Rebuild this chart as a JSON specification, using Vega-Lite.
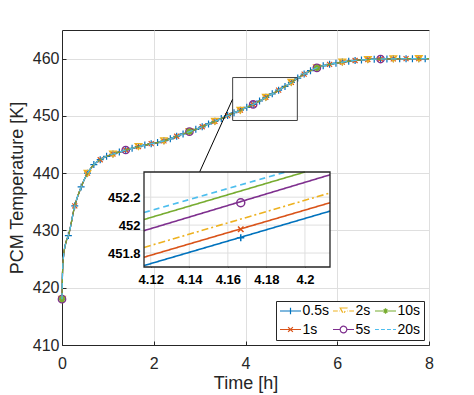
{
  "$schema": "https://vega.github.io/schema/vega-lite/v6.json",
  "width": 367,
  "height": 315,
  "autosize": "none",
  "padding": {"left": 62, "top": 30, "right": 45, "bottom": 50},
  "background": "white",
  "config": {
    "font": "Liberation Sans",
    "view": {"stroke": "#262626", "strokeWidth": 1},
    "axis": {
      "labelFontSize": 16,
      "titleFontSize": 18,
      "labelColor": "#262626",
      "titleColor": "#262626",
      "titleFontWeight": "normal",
      "domainColor": "#262626",
      "tickColor": "#262626",
      "gridColor": "#dfdfdf",
      "labelFlush": false
    }
  },
  "datasets": {
    "curve": [
      {"t": 0, "T": 418.0, "k": 0},
      {"t": 0.01, "T": 422.3},
      {"t": 0.03, "T": 425.2},
      {"t": 0.07, "T": 427.4},
      {"t": 0.1, "T": 428.3},
      {"t": 0.139, "T": 429.1, "k": 1},
      {"t": 0.278, "T": 434.3, "k": 2},
      {"t": 0.417, "T": 437.6, "k": 3},
      {"t": 0.556, "T": 440.0, "k": 4},
      {"t": 0.694, "T": 441.5, "k": 5},
      {"t": 0.833, "T": 442.35, "k": 6},
      {"t": 0.972, "T": 442.95, "k": 7},
      {"t": 1.111, "T": 443.35, "k": 8},
      {"t": 1.25, "T": 443.7, "k": 9},
      {"t": 1.389, "T": 444.05, "k": 10},
      {"t": 1.528, "T": 444.35, "k": 11},
      {"t": 1.667, "T": 444.65, "k": 12},
      {"t": 1.806, "T": 444.9, "k": 13},
      {"t": 1.944, "T": 445.15, "k": 14},
      {"t": 2.083, "T": 445.35, "k": 15},
      {"t": 2.222, "T": 445.65, "k": 16},
      {"t": 2.361, "T": 446.0, "k": 17},
      {"t": 2.5, "T": 446.45, "k": 18},
      {"t": 2.639, "T": 446.85, "k": 19},
      {"t": 2.778, "T": 447.25, "k": 20},
      {"t": 2.917, "T": 447.65, "k": 21},
      {"t": 3.056, "T": 448.1, "k": 22},
      {"t": 3.194, "T": 448.6, "k": 23},
      {"t": 3.333, "T": 449.05, "k": 24},
      {"t": 3.472, "T": 449.55, "k": 25},
      {"t": 3.611, "T": 450.05, "k": 26},
      {"t": 3.75, "T": 450.55, "k": 27},
      {"t": 3.889, "T": 451.0, "k": 28},
      {"t": 4.028, "T": 451.5, "k": 29},
      {"t": 4.167, "T": 452.0, "k": 30},
      {"t": 4.306, "T": 452.6, "k": 31},
      {"t": 4.444, "T": 453.25, "k": 32},
      {"t": 4.583, "T": 453.85, "k": 33},
      {"t": 4.722, "T": 454.5, "k": 34},
      {"t": 4.861, "T": 455.15, "k": 35},
      {"t": 5.0, "T": 455.85, "k": 36},
      {"t": 5.139, "T": 456.6, "k": 37},
      {"t": 5.278, "T": 457.3, "k": 38},
      {"t": 5.417, "T": 457.9, "k": 39},
      {"t": 5.556, "T": 458.4, "k": 40},
      {"t": 5.694, "T": 458.75, "k": 41},
      {"t": 5.833, "T": 459.0, "k": 42},
      {"t": 5.972, "T": 459.2, "k": 43},
      {"t": 6.111, "T": 459.4, "k": 44},
      {"t": 6.25, "T": 459.55, "k": 45},
      {"t": 6.389, "T": 459.68, "k": 46},
      {"t": 6.528, "T": 459.78, "k": 47},
      {"t": 6.667, "T": 459.85, "k": 48},
      {"t": 6.806, "T": 459.9, "k": 49},
      {"t": 6.944, "T": 459.93, "k": 50},
      {"t": 7.083, "T": 459.95, "k": 51},
      {"t": 7.222, "T": 459.97, "k": 52},
      {"t": 7.361, "T": 459.98, "k": 53},
      {"t": 7.5, "T": 459.99, "k": 54},
      {"t": 7.639, "T": 460.0, "k": 55},
      {"t": 7.778, "T": 460.0, "k": 56},
      {"t": 7.917, "T": 460.0, "k": 57},
      {"t": 8.0, "T": 460.0}
    ],
    "inset": [
      {"series": "0.5s", "t": 4.1165, "T": 451.71},
      {"series": "0.5s", "t": 4.213, "T": 452.10},
      {"series": "1s", "t": 4.1165, "T": 451.77},
      {"series": "1s", "t": 4.213, "T": 452.16},
      {"series": "2s", "t": 4.1165, "T": 451.84},
      {"series": "2s", "t": 4.213, "T": 452.23},
      {"series": "5s", "t": 4.1165, "T": 451.96},
      {"series": "5s", "t": 4.213, "T": 452.36},
      {"series": "10s", "t": 4.1165, "T": 452.04},
      {"series": "10s", "t": 4.2, "T": 452.38},
      {"series": "20s", "t": 4.1165, "T": 452.09},
      {"series": "20s", "t": 4.19, "T": 452.38}
    ],
    "insetMarks": [
      {"series": "0.5s", "t": 4.1667, "T": 451.91},
      {"series": "1s", "t": 4.1667, "T": 451.97},
      {"series": "5s", "t": 4.1667, "T": 452.16}
    ],
    "insetGridX": [{"g": 4.12}, {"g": 4.14}, {"g": 4.16}, {"g": 4.18}, {"g": 4.2}],
    "insetGridY": [{"h": 451.8}, {"h": 452.0}, {"h": 452.2}],
    "insetBox": [{"x1": 4.1165, "x2": 4.213, "y1": 451.70, "y2": 452.38}],
    "zoomBox": [{"x1": 3.72, "x2": 5.13, "y1": 449.2, "y2": 456.7}],
    "connector": [{"x1": 3.717, "y1": 452.9, "x2": 3.0, "y2": 440.21}],
    "legendKeys": [
      {"series": "0.5s", "t": -1, "T": 400},
      {"series": "1s", "t": -1, "T": 400},
      {"series": "2s", "t": -1, "T": 400},
      {"series": "5s", "t": -1, "T": 400},
      {"series": "10s", "t": -1, "T": 400},
      {"series": "20s", "t": -1, "T": 400}
    ]
  },
  "layer": [
    {
      "layer": [
        {
          "data": {"name": "curve"},
          "mark": {"type": "line", "color": "#0072BD", "strokeWidth": 1.2, "interpolate": "monotone"},
          "encoding": {
            "x": {"field": "t", "type": "quantitative", "scale": {"domain": [0, 8], "nice": false},
              "axis": {"title": "Time [h]", "values": [0, 2, 4, 6, 8], "format": "~g", "grid": true, "tickSize": -4, "labelPadding": 14, "titlePadding": 3}},
            "y": {"field": "T", "type": "quantitative", "scale": {"domain": [410, 465], "nice": false, "zero": false},
              "axis": {"title": "PCM Temperature [K]", "values": [410, 420, 430, 440, 450, 460], "format": "~g", "grid": true, "tickSize": -4, "labelPadding": 7, "titlePadding": 6}}
          }
        },
        {
          "data": {"name": "curve"},
          "transform": [{"filter": "datum.k != null"}],
          "mark": {"type": "point", "shape": "M-1,0H1M0,-1V1", "size": 49, "filled": false, "color": "#0072BD", "strokeWidth": 1.2, "opacity": 1},
          "encoding": {"x": {"field": "t", "type": "quantitative"}, "y": {"field": "T", "type": "quantitative"}}
        },
        {
          "data": {"name": "curve"},
          "mark": {"type": "line", "color": "#D95319", "strokeWidth": 1.2, "interpolate": "monotone"},
          "encoding": {"x": {"field": "t", "type": "quantitative"}, "y": {"field": "T", "type": "quantitative"}}
        },
        {
          "data": {"name": "curve"},
          "transform": [{"filter": "datum.k != null && datum.k % 2 == 0"}],
          "mark": {"type": "point", "shape": "M-1,-1L1,1M-1,1L1,-1", "size": 25, "filled": false, "color": "#D95319", "strokeWidth": 1.2, "opacity": 1},
          "encoding": {"x": {"field": "t", "type": "quantitative"}, "y": {"field": "T", "type": "quantitative"}}
        },
        {
          "data": {"name": "curve"},
          "mark": {"type": "line", "color": "#EDB120", "strokeWidth": 1.2, "strokeDash": [7, 3, 2, 3], "interpolate": "monotone"},
          "encoding": {"x": {"field": "t", "type": "quantitative"}, "y": {"field": "T", "type": "quantitative"}}
        },
        {
          "data": {"name": "curve"},
          "transform": [{"filter": "datum.k != null && datum.k % 4 == 0"}],
          "mark": {"type": "point", "shape": "triangle-down", "size": 45, "filled": false, "color": "#EDB120", "strokeWidth": 1.3, "opacity": 1},
          "encoding": {"x": {"field": "t", "type": "quantitative"}, "y": {"field": "T", "type": "quantitative"}}
        },
        {
          "data": {"name": "curve"},
          "mark": {"type": "line", "color": "#7E2F8E", "strokeWidth": 1.2, "interpolate": "monotone"},
          "encoding": {"x": {"field": "t", "type": "quantitative"}, "y": {"field": "T", "type": "quantitative"}}
        },
        {
          "data": {"name": "curve"},
          "transform": [{"filter": "datum.k != null && datum.k % 10 == 0"}],
          "mark": {"type": "point", "shape": "circle", "size": 55, "filled": false, "color": "#7E2F8E", "strokeWidth": 1.3, "opacity": 1},
          "encoding": {"x": {"field": "t", "type": "quantitative"}, "y": {"field": "T", "type": "quantitative"}}
        },
        {
          "data": {"name": "curve"},
          "mark": {"type": "line", "color": "#77AC30", "strokeWidth": 1.2, "interpolate": "monotone"},
          "encoding": {"x": {"field": "t", "type": "quantitative"}, "y": {"field": "T", "type": "quantitative"}}
        },
        {
          "data": {"name": "curve"},
          "transform": [{"filter": "datum.k != null && datum.k % 20 == 0"}],
          "mark": {"type": "point", "shape": "M-1,0H1M0,-1V1M-0.7,-0.7L0.7,0.7M-0.7,0.7L0.7,-0.7", "size": 40, "filled": false, "color": "#77AC30", "strokeWidth": 1.8, "opacity": 1},
          "encoding": {"x": {"field": "t", "type": "quantitative"}, "y": {"field": "T", "type": "quantitative"}}
        },
        {
          "data": {"name": "curve"},
          "mark": {"type": "line", "color": "#4DBEEE", "strokeWidth": 1.2, "strokeDash": [6, 4], "interpolate": "monotone"},
          "encoding": {"x": {"field": "t", "type": "quantitative"}, "y": {"field": "T", "type": "quantitative"}}
        },
        {
          "data": {"name": "zoomBox"},
          "mark": {"type": "rect", "fill": null, "fillOpacity": 0, "stroke": "#404040", "strokeWidth": 1},
          "encoding": {
            "x": {"field": "x1", "type": "quantitative"}, "x2": {"field": "x2"},
            "y": {"field": "y1", "type": "quantitative"}, "y2": {"field": "y2"}
          }
        },
        {
          "data": {"name": "connector"},
          "mark": {"type": "rule", "color": "#000000", "strokeWidth": 1},
          "encoding": {
            "x": {"field": "x1", "type": "quantitative"}, "x2": {"field": "x2"},
            "y": {"field": "y1", "type": "quantitative"}, "y2": {"field": "y2"}
          }
        },
        {
          "data": {"name": "legendKeys"},
          "mark": {"type": "point", "filled": false, "clip": true, "opacity": 1, "strokeWidth": 1.2},
          "encoding": {
            "x": {"field": "t", "type": "quantitative"},
            "y": {"field": "T", "type": "quantitative"},
            "color": {
              "field": "series", "type": "nominal",
              "scale": {"domain": ["0.5s", "1s", "2s", "5s", "10s", "20s"], "range": ["#0072BD", "#D95319", "#EDB120", "#7E2F8E", "#77AC30", "#4DBEEE"]},
              "legend": {
                "title": null, "orient": "bottom-right", "offset": 5, "columns": 3, "gridAlign": "each",
                "labelFontSize": 14, "labelColor": "#000000", "labelFont": "Liberation Sans",
                "symbolSize": 36, "symbolStrokeWidth": 1.2, "symbolFillColor": "transparent",
                "labelOffset": 9.5, "columnPadding": 1, "rowPadding": 4.5, "padding": 3,
                "strokeColor": "#262626", "fillColor": "white", "symbolOpacity": 1
              }
            },
            "shape": {
              "field": "series", "type": "nominal",
              "scale": {"domain": ["0.5s", "1s", "2s", "5s", "10s", "20s"], "range": [
                "M-2,0H5M1.5,-1.1V1.1",
                "M-2,0H5M0.7,-0.8L2.3,0.8M0.7,0.8L2.3,-0.8",
                "M-2,0H-0.4M0.1,0H0.3M2.7,0H2.9M3.4,0H5M0.4,-1L2.6,-1L1.5,1Z",
                "M-2,0H0.4M2.6,0H5M2.6,0A1.1,1.1 0 1,1 0.4,0A1.1,1.1 0 1,1 2.6,0",
                "M-2,0H5M1.5,-0.9V0.9M0.6,0H2.4M0.9,-0.6L2.1,0.6M0.9,0.6L2.1,-0.6",
                "M-2,0H-0.7M0,0H1.3M2,0H3.3M4,0H5"
              ]}
            }
          }
        }
      ]
    },
    {
      "layer": [
        {
          "data": {"name": "insetBox"},
          "mark": {"type": "rect", "fill": "white", "stroke": null},
          "encoding": {
            "x": {"field": "x1", "type": "quantitative",
              "scale": {"domain": [4.1165, 4.213], "range": [82, 268], "nice": false, "zero": false},
              "axis": {"orient": "bottom", "offset": -78, "values": [4.12, 4.14, 4.16, 4.18, 4.2], "format": "~g", "title": null, "grid": false, "domain": false, "ticks": true, "tickSize": -3, "tickColor": "#262626", "labelFontSize": 13, "labelFontWeight": "bold", "labelColor": "#000000", "labelPadding": 9}},
            "x2": {"field": "x2"},
            "y": {"field": "y1", "type": "quantitative",
              "scale": {"domain": [451.70, 452.38], "range": [237, 142], "nice": false, "zero": false},
              "axis": {"orient": "left", "offset": -82, "values": [451.8, 452.0, 452.2], "format": "~g", "title": null, "grid": false, "domain": false, "ticks": true, "tickSize": -3, "tickColor": "#262626", "labelFontSize": 13, "labelFontWeight": "bold", "labelColor": "#000000", "labelPadding": 7}},
            "y2": {"field": "y2"}
          }
        },
        {
          "data": {"name": "insetGridX"},
          "mark": {"type": "rule", "color": "#dfdfdf", "strokeWidth": 1},
          "encoding": {
            "x": {"field": "g", "type": "quantitative"},
            "y": {"datum": 451.70, "type": "quantitative"},
            "y2": {"datum": 452.38}
          }
        },
        {
          "data": {"name": "insetGridY"},
          "mark": {"type": "rule", "color": "#dfdfdf", "strokeWidth": 1},
          "encoding": {
            "y": {"field": "h", "type": "quantitative"},
            "x": {"datum": 4.1165, "type": "quantitative"},
            "x2": {"datum": 4.213}
          }
        },
        {
          "data": {"name": "inset"},
          "mark": {"type": "line", "strokeWidth": 1.6},
          "encoding": {
            "x": {"field": "t", "type": "quantitative"},
            "y": {"field": "T", "type": "quantitative"},
            "stroke": {"field": "series", "type": "nominal", "legend": null,
              "scale": {"domain": ["0.5s", "1s", "2s", "5s", "10s", "20s"], "range": ["#0072BD", "#D95319", "#EDB120", "#7E2F8E", "#77AC30", "#4DBEEE"]}},
            "strokeDash": {"field": "series", "type": "nominal", "legend": null,
              "scale": {"domain": ["0.5s", "1s", "2s", "5s", "10s", "20s"], "range": [[1, 0], [1, 0], [7, 3, 2, 3], [1, 0], [1, 0], [6, 4]]}}
          }
        },
        {
          "data": {"name": "insetMarks"},
          "transform": [{"filter": "datum.series == '0.5s'"}],
          "mark": {"type": "point", "shape": "M-1,0H1M0,-1V1", "size": 49, "filled": false, "color": "#0072BD", "strokeWidth": 1.5, "opacity": 1},
          "encoding": {"x": {"field": "t", "type": "quantitative"}, "y": {"field": "T", "type": "quantitative"}}
        },
        {
          "data": {"name": "insetMarks"},
          "transform": [{"filter": "datum.series == '1s'"}],
          "mark": {"type": "point", "shape": "M-1,-1L1,1M-1,1L1,-1", "size": 30, "filled": false, "color": "#D95319", "strokeWidth": 1.5, "opacity": 1},
          "encoding": {"x": {"field": "t", "type": "quantitative"}, "y": {"field": "T", "type": "quantitative"}}
        },
        {
          "data": {"name": "insetMarks"},
          "transform": [{"filter": "datum.series == '5s'"}],
          "mark": {"type": "point", "shape": "circle", "size": 64, "filled": false, "color": "#7E2F8E", "strokeWidth": 1.5, "opacity": 1},
          "encoding": {"x": {"field": "t", "type": "quantitative"}, "y": {"field": "T", "type": "quantitative"}}
        },
        {
          "data": {"name": "insetBox"},
          "mark": {"type": "rect", "fill": null, "fillOpacity": 0, "stroke": "#262626", "strokeWidth": 1.3},
          "encoding": {
            "x": {"field": "x1", "type": "quantitative"}, "x2": {"field": "x2"},
            "y": {"field": "y1", "type": "quantitative"}, "y2": {"field": "y2"}
          }
        }
      ]
    }
  ],
  "resolve": {"scale": {"x": "independent", "y": "independent"}}
}
